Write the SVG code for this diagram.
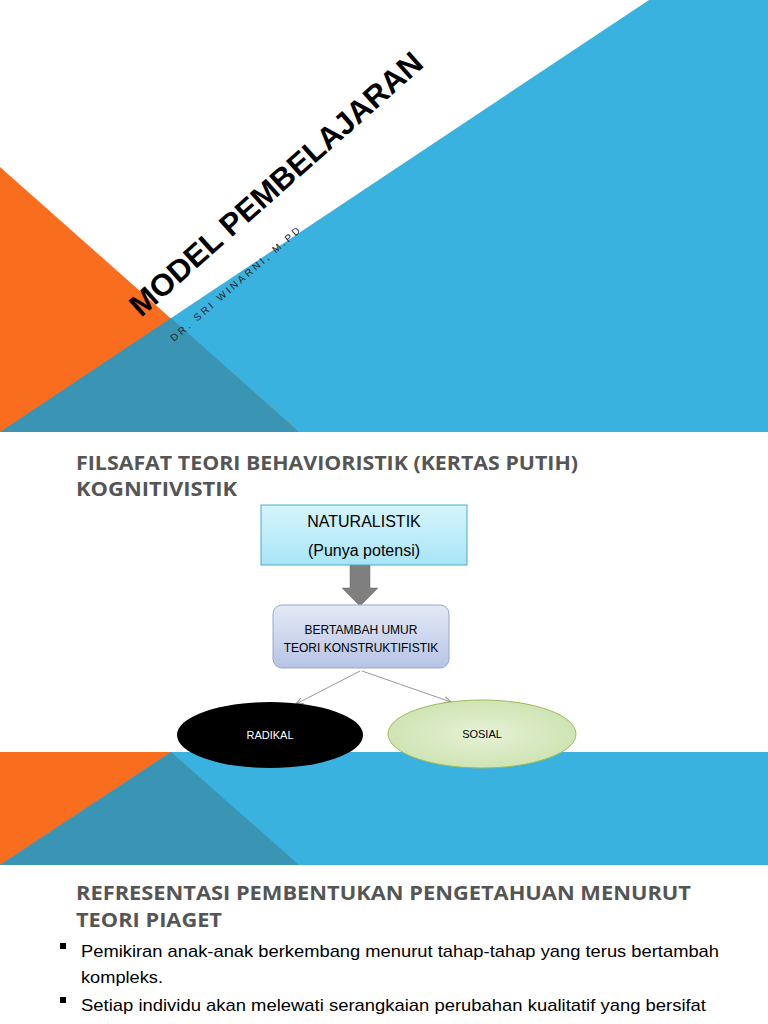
<svg xmlns="http://www.w3.org/2000/svg" width="768" height="1024" viewBox="0 0 768 1024">
<defs>
<linearGradient id="g1" x1="0" y1="0" x2="0" y2="1"><stop offset="0" stop-color="#d6f5fd"/><stop offset="1" stop-color="#a8e4f6"/></linearGradient>
<linearGradient id="g2" x1="0" y1="0" x2="0" y2="1"><stop offset="0" stop-color="#e4e9f6"/><stop offset="1" stop-color="#b6c4e4"/></linearGradient>
<radialGradient id="g3"><stop offset="0" stop-color="#e6f1d6"/><stop offset="1" stop-color="#cfe4b4"/></radialGradient>
<marker id="ah" markerWidth="8" markerHeight="8" refX="7" refY="4" orient="auto" markerUnits="userSpaceOnUse"><path d="M0,1 L7,4 L0,7" fill="none" stroke="#888" stroke-width="1"/></marker>
</defs>
<style>
.h{font-family:"Open Sans",sans-serif;font-weight:bold;font-size:20px;fill:#555}
.b{font-family:"Liberation Sans",sans-serif;font-size:17px;fill:#000}
.n{font-family:"Liberation Sans",sans-serif;fill:#000;text-anchor:middle}
</style>
<rect width="768" height="1024" fill="#fff"/>
<g id="slide1">
<polygon points="649,0 768,0 768,432 0,432" fill="#3ab2e0"/>
<polygon points="0,167 299,432 0,432" fill="#f96d1f"/>
<polygon points="171,318 299,432 0,432" fill="#3a95b4"/>
<text transform="translate(141,318) rotate(-41.6)" font-family="Liberation Sans,sans-serif" font-size="31" font-weight="bold" textLength="380" lengthAdjust="spacingAndGlyphs" fill="#000">MODEL PEMBELAJARAN</text>
<text transform="translate(174,342) rotate(-41)" font-family="Liberation Sans,sans-serif" font-size="10" letter-spacing="4" textLength="172" fill="#222">DR. SRI WINARNI, M.PD</text>
</g>
<g id="slide2band">
<rect x="0" y="752" width="768" height="113" fill="#3ab2e0"/>
<polygon points="0,752 171,752 0,865" fill="#f96d1f"/>
<polygon points="171,752 299,865 0,865" fill="#3a95b4"/>
</g>
<g id="heading1">
<text class="h" x="76" y="470" textLength="502" lengthAdjust="spacingAndGlyphs">FILSAFAT TEORI BEHAVIORISTIK (KERTAS PUTIH)</text>
<text class="h" x="76" y="496" textLength="161" lengthAdjust="spacingAndGlyphs">KOGNITIVISTIK</text>
</g>
<g id="connectors">
<path d="M350,565 H370 V588 H378 L360,606 L342,588 H350 Z" fill="#7f7f7f" stroke="#666" stroke-width="0.5"/>
<line x1="360" y1="671" x2="296" y2="704" stroke="#999" stroke-width="1" marker-end="url(#ah)"/>
<line x1="362" y1="671" x2="451" y2="702" stroke="#999" stroke-width="1" marker-end="url(#ah)"/>
</g>
<g id="naturalistik">
<rect x="261" y="505" width="206" height="60" fill="url(#g1)" stroke="#4bacc6"/>
<text class="n" x="364" y="527" font-size="16">NATURALISTIK</text>
<text class="n" x="364" y="556" font-size="16">(Punya potensi)</text>
</g>
<g id="bertambah">
<rect x="273" y="605" width="176" height="63" rx="9" fill="url(#g2)" stroke="#95a7cf"/>
<text class="n" x="361" y="634" font-size="12">BERTAMBAH UMUR</text>
<text class="n" x="361" y="652" font-size="12">TEORI KONSTRUKTIFISTIK</text>
</g>
<g id="radikal">
<ellipse cx="270" cy="735" rx="93" ry="33" fill="#000"/>
<text class="n" x="270" y="739" font-size="11" style="fill:#fff">RADIKAL</text>
</g>
<g id="sosial">
<ellipse cx="482" cy="734" rx="94" ry="34" fill="url(#g3)" stroke="#9bbb59"/>
<text class="n" x="482" y="738" font-size="11">SOSIAL</text>
</g>
<g id="heading2">
<text class="h" x="76" y="900" textLength="615" lengthAdjust="spacingAndGlyphs">REFRESENTASI PEMBENTUKAN PENGETAHUAN MENURUT</text>
<text class="h" x="76" y="927" textLength="146" lengthAdjust="spacingAndGlyphs">TEORI PIAGET</text>
</g>
<g id="bullets">
<rect x="60" y="943" width="6" height="6" fill="#000"/>
<text class="b" x="81" y="957" textLength="638" lengthAdjust="spacingAndGlyphs">Pemikiran anak-anak berkembang menurut tahap-tahap yang terus bertambah</text>
<text class="b" x="81" y="983" textLength="82" lengthAdjust="spacingAndGlyphs">kompleks.</text>
<rect x="60" y="997" width="6" height="6" fill="#000"/>
<text class="b" x="81" y="1011" textLength="625" lengthAdjust="spacingAndGlyphs">Setiap individu akan melewati serangkaian perubahan kualitatif yang bersifat</text>
<text class="b" x="81" y="1037" textLength="578" lengthAdjust="spacingAndGlyphs">invariant (stabil), selalu tetap, tidak melompat atau mundur. Perubahan</text>
</g>
</svg>
